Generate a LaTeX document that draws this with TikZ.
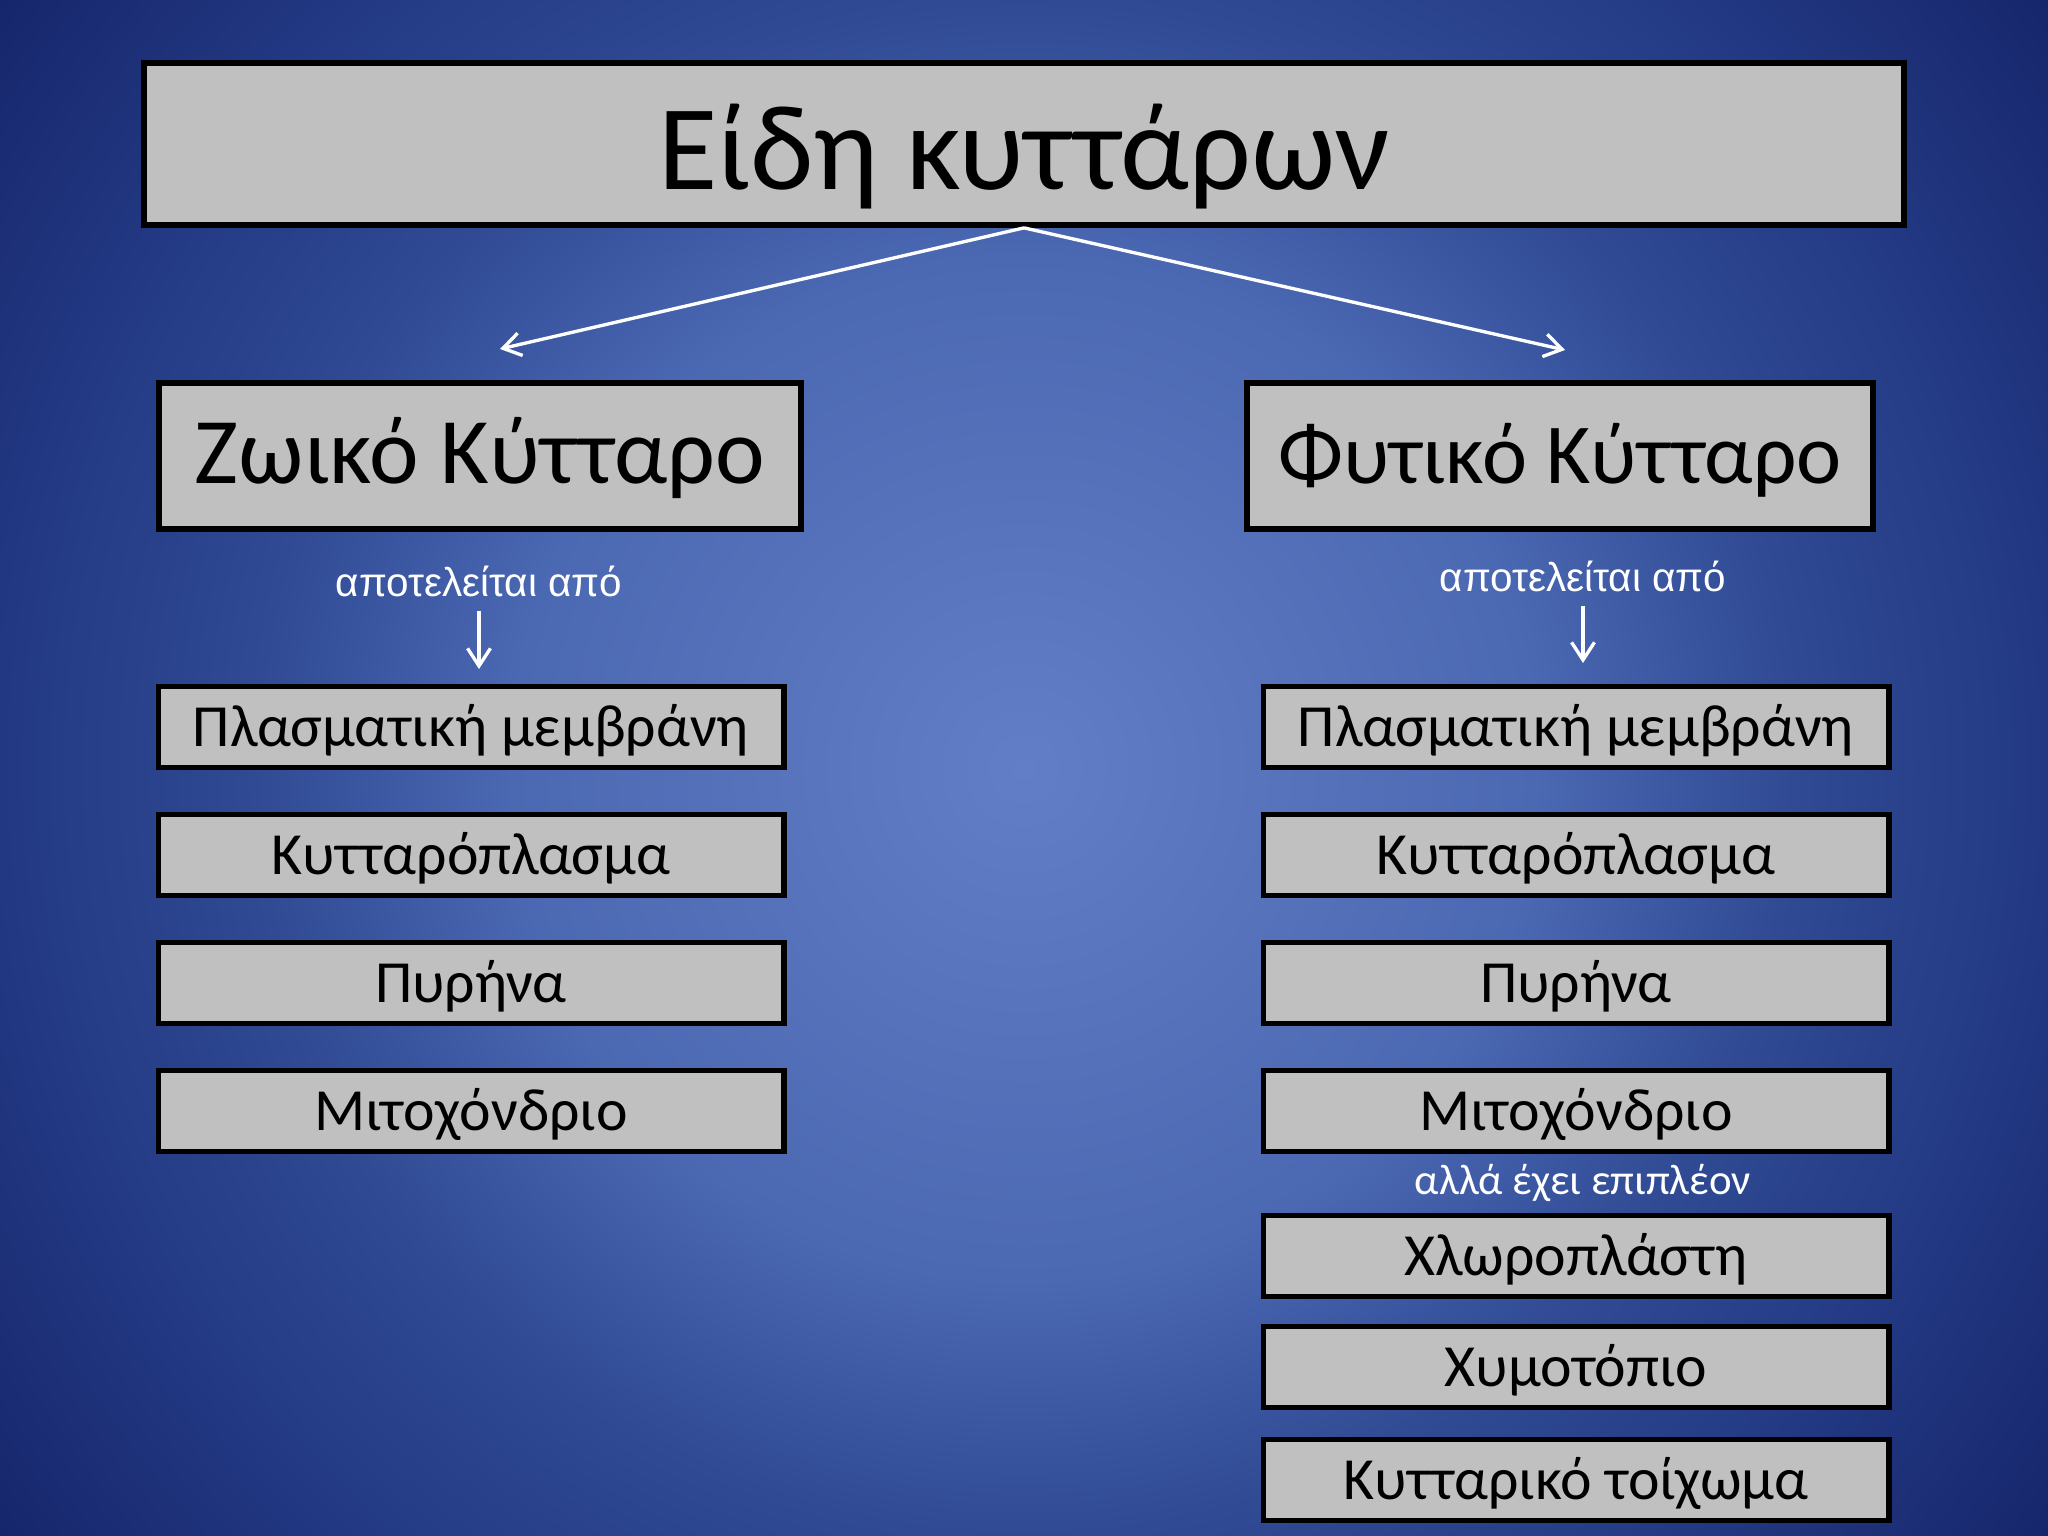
\documentclass[tikz,border=0pt]{standalone}
\usepackage{fontspec}
\newfontfamily\boxfont{Carlito}
\newfontfamily\notefont{Liberation Sans}
\usetikzlibrary{arrows.meta}

\definecolor{boxgray}{RGB}{192,192,192}
\definecolor{bgcentre}{RGB}{98,126,198}
\definecolor{bginner}{RGB}{75,104,178}
\definecolor{bgmid}{RGB}{48,74,148}
\definecolor{bgedge}{RGB}{34,56,130}
\definecolor{bgcorner}{RGB}{22,38,108}
\pgfdeclareradialshading{slideglow}{\pgfpointorigin}{color(0bp)=(bgcentre); color(10bp)=(bginner); color(15bp)=(bgmid); color(20bp)=(bgedge); color(25bp)=(bgcorner); color(50bp)=(bgcorner)}

\begin{document}
\begin{tikzpicture}[x=0.01cm, y=-0.01cm,
  cellbox/.style={draw=black, line width=1.6pt, fill=boxgray, inner sep=0pt, text=black},
  titlebox/.style={cellbox, minimum width=17.59cm, minimum height=1.62cm, text height=30pt, text depth=4pt, font=\boxfont\fontsize{34.5}{40}\selectfont},
  kindbox/.style={cellbox, minimum height=1.46cm, text height=20pt, text depth=4.4pt},
  partbox/.style={cellbox, minimum width=6.25cm, minimum height=0.81cm, text height=13pt, text depth=1.8pt, font=\boxfont\fontsize{17}{20}\selectfont},
  note/.style={text=white, inner sep=0pt},
  link/.style={draw=white, line width=0.95pt, -{Straight Barb[length=5pt,width=6.5pt]}}]
  \useasboundingbox (0,0) rectangle (2048,1536);
  % slide background
  \begin{scope}
    \clip (0,0) rectangle (2048,1536);
    \shade[shading=slideglow] (-256,-512) rectangle (2304,2048);
  \end{scope}

  % title and the two kinds of cell
  \node[titlebox] (title) at (1024,144) {Είδη κυττάρων};
  \node[kindbox, minimum width=6.42cm, font=\boxfont\fontsize{26.7}{31}\selectfont] (animal) at (480,456) {Ζωικό Κύτταρο};
  \node[kindbox, minimum width=6.26cm, font=\boxfont\fontsize{24.3}{29}\selectfont] (plant) at (1560,456) {Φυτικό Κύτταρο};
  \coordinate (animaltip) at (500,349);
  \coordinate (planttip) at (1565,350);
  \draw[link] (title.south) -- (animaltip);
  \draw[link] (title.south) -- (planttip);

  % animal cell parts
  \node[note, font=\notefont\fontsize{11.5}{14}\selectfont] (animalnote) at (479,581) {αποτελείται από};
  \coordinate (animaldown1) at (479,611);
  \coordinate (animaldown2) at (479,669);
  \draw[link] (animaldown1) -- (animaldown2);
  \node[partbox] (a1) at (471,727) {Πλασματική μεμβράνη};
  \node[partbox] (a2) at (471,855) {Κυτταρόπλασμα};
  \node[partbox] (a3) at (471,983) {Πυρήνα};
  \node[partbox] (a4) at (471,1111) {Μιτοχόνδριο};

  % plant cell parts
  \node[note, font=\notefont\fontsize{11.5}{14}\selectfont] (plantnote) at (1583,576) {αποτελείται από};
  \coordinate (plantdown1) at (1583,606);
  \coordinate (plantdown2) at (1583,663);
  \draw[link] (plantdown1) -- (plantdown2);
  \node[partbox] (p1) at (1576,727) {Πλασματική μεμβράνη};
  \node[partbox] (p2) at (1576,855) {Κυτταρόπλασμα};
  \node[partbox] (p3) at (1576,983) {Πυρήνα};
  \node[partbox] (p4) at (1576,1111) {Μιτοχόνδριο};
  \node[note, font=\boxfont\fontsize{12.2}{15}\selectfont] (extranote) at (1583,1183) {αλλά έχει επιπλέον};
  \node[partbox] (p5) at (1576,1256) {Χλωροπλάστη};
  \node[partbox] (p6) at (1576,1367) {Χυμοτόπιο};
  \node[partbox] (p7) at (1576,1480) {Κυτταρικό τοίχωμα};
\end{tikzpicture}
\end{document}
